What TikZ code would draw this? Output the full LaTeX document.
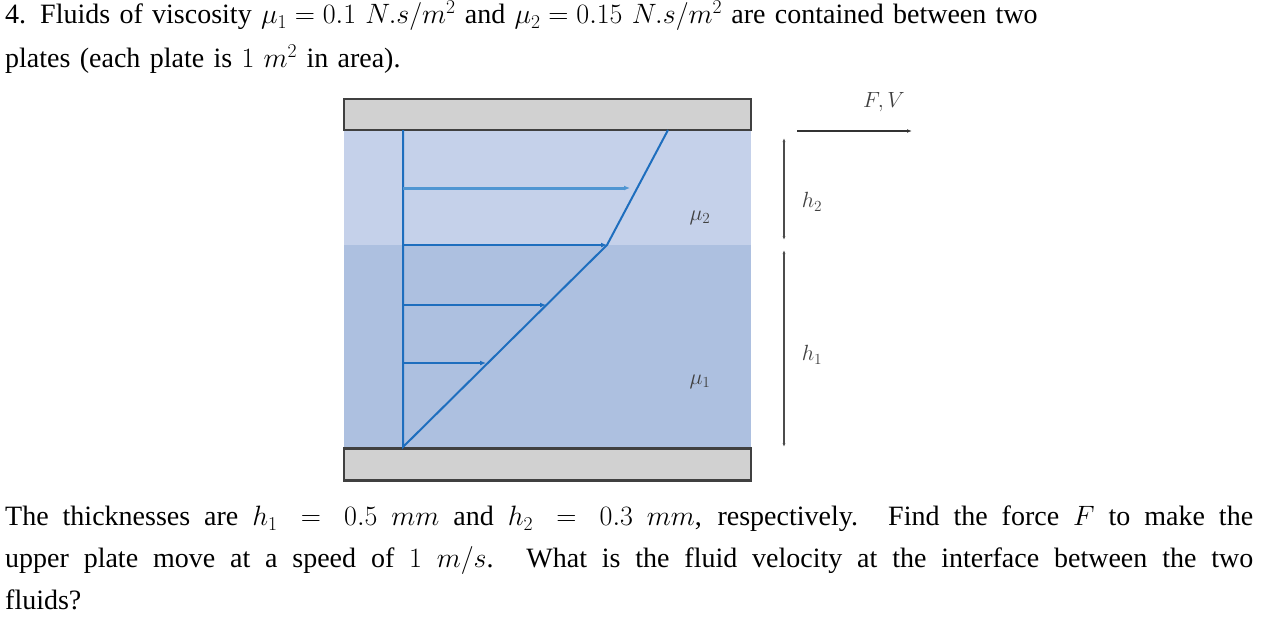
\RequirePackage{fix-cm}
\documentclass[tikz,border=0pt]{standalone}
\usepackage{fontspec}
\setmainfont{Liberation Serif}
\begin{document}
\begin{tikzpicture}[x=1pt,y=-1pt,
  plate/.style={draw=black!75,line width=2.5pt,fill=black!18},
  vel/.style={draw={rgb,255:red,30;green,110;blue,190},line width=2pt},
  varr/.style={vel,-{Latex[length=6pt,width=5pt]}},
  lab/.style={font=\fontsize{22}{24}\selectfont\itshape,text=black!75}]
\usetikzlibrary{arrows.meta}
\useasboundingbox (0,0) rectangle (1261,629);
\fill[fill={rgb,255:red,197;green,209;blue,234}] (344,130) rectangle (751,245);
\fill[fill={rgb,255:red,173;green,192;blue,224}] (344,245) rectangle (751,447);
\node[plate,minimum width=407pt,minimum height=31pt,inner sep=0pt] (top) at (547.5,114.5) {};
\node[plate,minimum width=407pt,minimum height=32pt,inner sep=0pt] (bot) at (547.5,464.5) {};
\coordinate (o) at (403,447); \coordinate (i) at (607,245); \coordinate (t) at (668,130);
\coordinate (vt) at (403,130);
\draw[vel] (vt) -- (o) -- (i) -- (t);
\coordinate (a1) at (403,188); \coordinate (b1) at (630,188);
\coordinate (a2) at (403,245); \coordinate (b2) at (607,245);
\coordinate (a3) at (403,305); \coordinate (b3) at (546,305);
\coordinate (a4) at (403,363); \coordinate (b4) at (486,363);
\draw[varr,draw={rgb,255:red,80;green,150;blue,210},line width=3pt] (a1) -- (b1);
\draw[varr] (a2) -- (b2);
\draw[varr] (a3) -- (b3);
\draw[varr] (a4) -- (b4);
\node[lab] (m2) at (700,218) {$\mu_2$};
\node[lab] (m1) at (700,382) {$\mu_1$};
\coordinate (d1) at (784,138); \coordinate (d2) at (784,240);
\coordinate (d3) at (784,250); \coordinate (d4) at (784,447);
\draw[black!70,line width=1.2pt,{Latex[length=4pt]}-{Latex[length=4pt]}] (d1) -- (d2);
\draw[black!70,line width=1.2pt,{Latex[length=4pt]}-{Latex[length=4pt]}] (d3) -- (d4);
\node[lab] (h2) at (812,202) {$h_2$};
\node[lab] (h1) at (812,355) {$h_1$};
\coordinate (f1) at (797,131); \coordinate (f2) at (912,131);
\draw[black!80,line width=1.5pt,-{Latex[length=5pt]}] (f1) -- (f2);
\node[lab] (fv) at (884,102) {$F, V$};
\node[anchor=north west,inner sep=0pt,text width=1250pt,align=left,font=\fontsize{28}{44}\selectfont] (q1) at (5,1)
 {4. Fluids of viscosity $\mu_1=0.1\ N.s/m^2$ and $\mu_2=0.15\ N.s/m^2$ are contained between two\\ plates (each plate is $1\ m^2$ in area).};
\node[anchor=north west,inner sep=0pt,text width=1248pt,align=justify,font=\fontsize{28}{42}\selectfont] (q2) at (5,506)
 {The thicknesses are $h_1=0.5\ mm$ and $h_2=0.3\ mm$, respectively. Find the force $F$ to make the\linebreak upper plate move at a speed of $1\ m/s$. What is the fluid velocity at the interface between the two\linebreak fluids?};
\end{tikzpicture}
\end{document}
